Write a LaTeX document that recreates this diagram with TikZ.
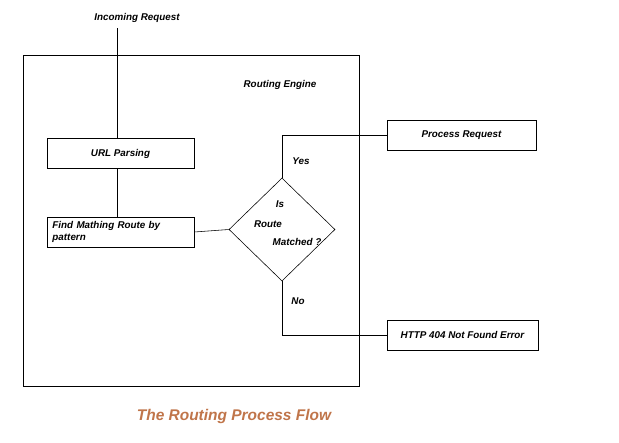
\documentclass[tikz,border=0pt]{standalone}
\usepackage{fontspec}
\setmainfont{Liberation Sans}
\usetikzlibrary{shapes.geometric}
\definecolor{titlebrown}{RGB}{192,117,74}
\begin{document}
\begin{tikzpicture}[x=0.025cm, y=-0.025cm, thin,
    lbl/.style = {font=\fontsize{7}{8}\selectfont\bfseries\itshape, inner sep=0},
    box/.style = {draw, minimum height=0.75cm, inner sep=2pt, font=\fontsize{7}{8}\selectfont\bfseries\itshape}
    ]
    \useasboundingbox (0,0) rectangle (619,442);
    \node[draw, minimum width=8.4cm, minimum height=8.275cm, inner sep=0] (engine) at (191,220.5) {};
    \node[lbl] (incoming) at (137,18) {Incoming Request};
    \node[lbl] (enginelbl) at (280,85) {Routing Engine};

    \node[box, minimum width=3.675cm] (url) at (120.5,153.5) {URL Parsing};
    \node[box, minimum width=3.675cm, align=left, text width=3.4cm] (find) at (120.5,232) {Find Mathing Route by\\pattern};
    \node[draw, diamond, minimum width=2.65cm, minimum height=2.575cm, inner sep=0] (match) at (282,229.5) {};
    \node[box, minimum width=3.725cm] (process) at (461.5,135) {Process Request};
    \node[box, minimum width=3.775cm] (notfound) at (462.5,335) {HTTP 404 Not Found Error};

    \node[lbl] (is) at (280,204) {Is};
    \node[lbl] (route) at (268,224) {Route};
    \node[lbl] (matched) at (297,242) {Matched ?};
    \node[lbl] (yes) at (301,161) {Yes};
    \node[lbl] (no) at (298,301) {No};

    \coordinate (top) at (117,28);
    \draw (top) -- (url.north -| top);
    \draw (url.south -| top) -- (find.north -| top);
    \draw (find.east) -- (match.west);
    \draw (match.north) |- (process.west);
    \draw (match.south) |- (notfound.west);

    \node[font=\fontsize{11}{13}\selectfont\bfseries\itshape, text=titlebrown] (title) at (234,416) {The Routing Process Flow};
\end{tikzpicture}
\end{document}
